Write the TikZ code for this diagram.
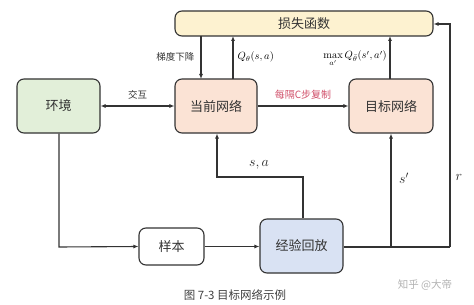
\documentclass[tikz,border=0pt]{standalone}
\usepackage{fix-cm}
\usepackage{amsmath}
\usepackage{fontspec}
\newfontfamily\cjk{Noto Sans CJK SC}
\usetikzlibrary{arrows.meta}
\definecolor{lossfill}{HTML}{FDF2D0}
\definecolor{envfill}{HTML}{E2EFD9}
\definecolor{netfill}{HTML}{FBE3D5}
\definecolor{repfill}{HTML}{D9E2F3}
\definecolor{edge}{HTML}{333333}
\definecolor{redlab}{HTML}{D0506A}
\tikzset{
  box/.style={draw=edge, line width=1.1pt, rounded corners=7pt, inner sep=0pt, font=\cjk\fontsize{13}{15}\selectfont, text=black!80},
  conn/.style={draw=edge, line width=1.1pt, -{Latex[length=5pt,width=4pt]}},
  plain/.style={draw=edge, line width=1.1pt},
  small/.style={font=\cjk\fontsize{9.5}{11}\selectfont, text=black!80},
  mlab/.style={font=\fontsize{14}{16}\selectfont, text=black!85},
}
\begin{document}
\begin{tikzpicture}[x=1pt,y=-1pt]
\useasboundingbox (0,0) rectangle (474,305);
\node[box, fill=lossfill, minimum width=258pt, minimum height=25pt] (loss) at (304,23.5) {损失函数};
\node[box, fill=envfill, minimum width=83pt, minimum height=54pt] (env) at (58.5,106) {环境};
\node[box, fill=netfill, minimum width=82pt, minimum height=54pt] (cur) at (216,106) {当前网络};
\node[box, fill=netfill, minimum width=84pt, minimum height=54pt] (tgt) at (391,106) {目标网络};
\node[box, fill=white, minimum width=65pt, minimum height=37pt] (smp) at (171.5,246.5) {样本};
\node[box, fill=repfill, minimum width=83pt, minimum height=54pt] (rep) at (301.5,246) {经验回放};
% env <-> cur
\draw[conn, {Latex[length=5pt,width=4pt]}-{Latex[length=5pt,width=4pt]}] (env.east) -- (cur.west) node[midway, above=3pt, small] (jh) {交互};
% cur -> tgt
\draw[conn] (cur.east) -- (tgt.west) node[midway, above=3pt, font=\cjk\fontsize{10}{12}\selectfont, text=redlab] (cp) {每隔C步复制};
% loss -> cur (gradient)
\coordinate (gtop) at (201,36);
\coordinate (gbot) at (201,79);
\draw[conn] (gtop) -- (gbot);
\node[small, anchor=east] (gd) at (198,57) {梯度下降};
% cur -> loss Q
\coordinate (qb) at (233,79);
\coordinate (qt) at (233,36);
\draw[conn] (qb) -- (qt);
\node[anchor=west, font=\fontsize{10.5}{12}\selectfont] (ql) at (234,57) {$Q_\theta(s,a)$};
% tgt -> loss max
\coordinate (mb) at (390,79);
\coordinate (mt) at (390,36);
\draw[conn] (mb) -- (mt);
\node[anchor=east, font=\fontsize{10.5}{12}\selectfont, inner sep=2pt] (ml) at (389,59) {$\max\limits_{a'} Q_{\bar\theta}(s',a')$};
% env -> sample
\coordinate (e1) at (59,247);
\draw[conn] (env.south -| e1) -- (e1) -- (smp.west);
% sample -> replay
\draw[conn] (smp.east) -- (rep.west |- smp.east);
% replay -> cur (s,a)
\coordinate (r1) at (303,177);
\coordinate (r2) at (217,177);
\draw[conn] (rep.north -| r1) -- (r1) -- (r2) -- (cur.south -| r2);
\node[mlab] (sa) at (259,165) {$s,a$};
% replay -> tgt (s') and loss (r)
\coordinate (j1) at (391,247);
\coordinate (j2) at (450,247);
\coordinate (j3) at (450,24);
\draw[plain] (rep.east |- j1) -- (j2);
\draw[conn] (j1) -- (tgt.south -| j1);
\draw[conn] (j2) -- (j3) -- (loss.east |- j3);
\node[mlab] (sp) at (404,178) {$s'$};
\node[mlab] (rl) at (459,177) {$r$};
% caption
\node[font=\cjk\fontsize{11.5}{13}\selectfont, text=black!75] (cap) at (235,295) {图 7-3 目标网络示例};
\node[font=\cjk\fontsize{10.5}{12}\selectfont, text=black!30] (wm) at (425,285) {知乎 @大帝};
\end{tikzpicture}
\end{document}
